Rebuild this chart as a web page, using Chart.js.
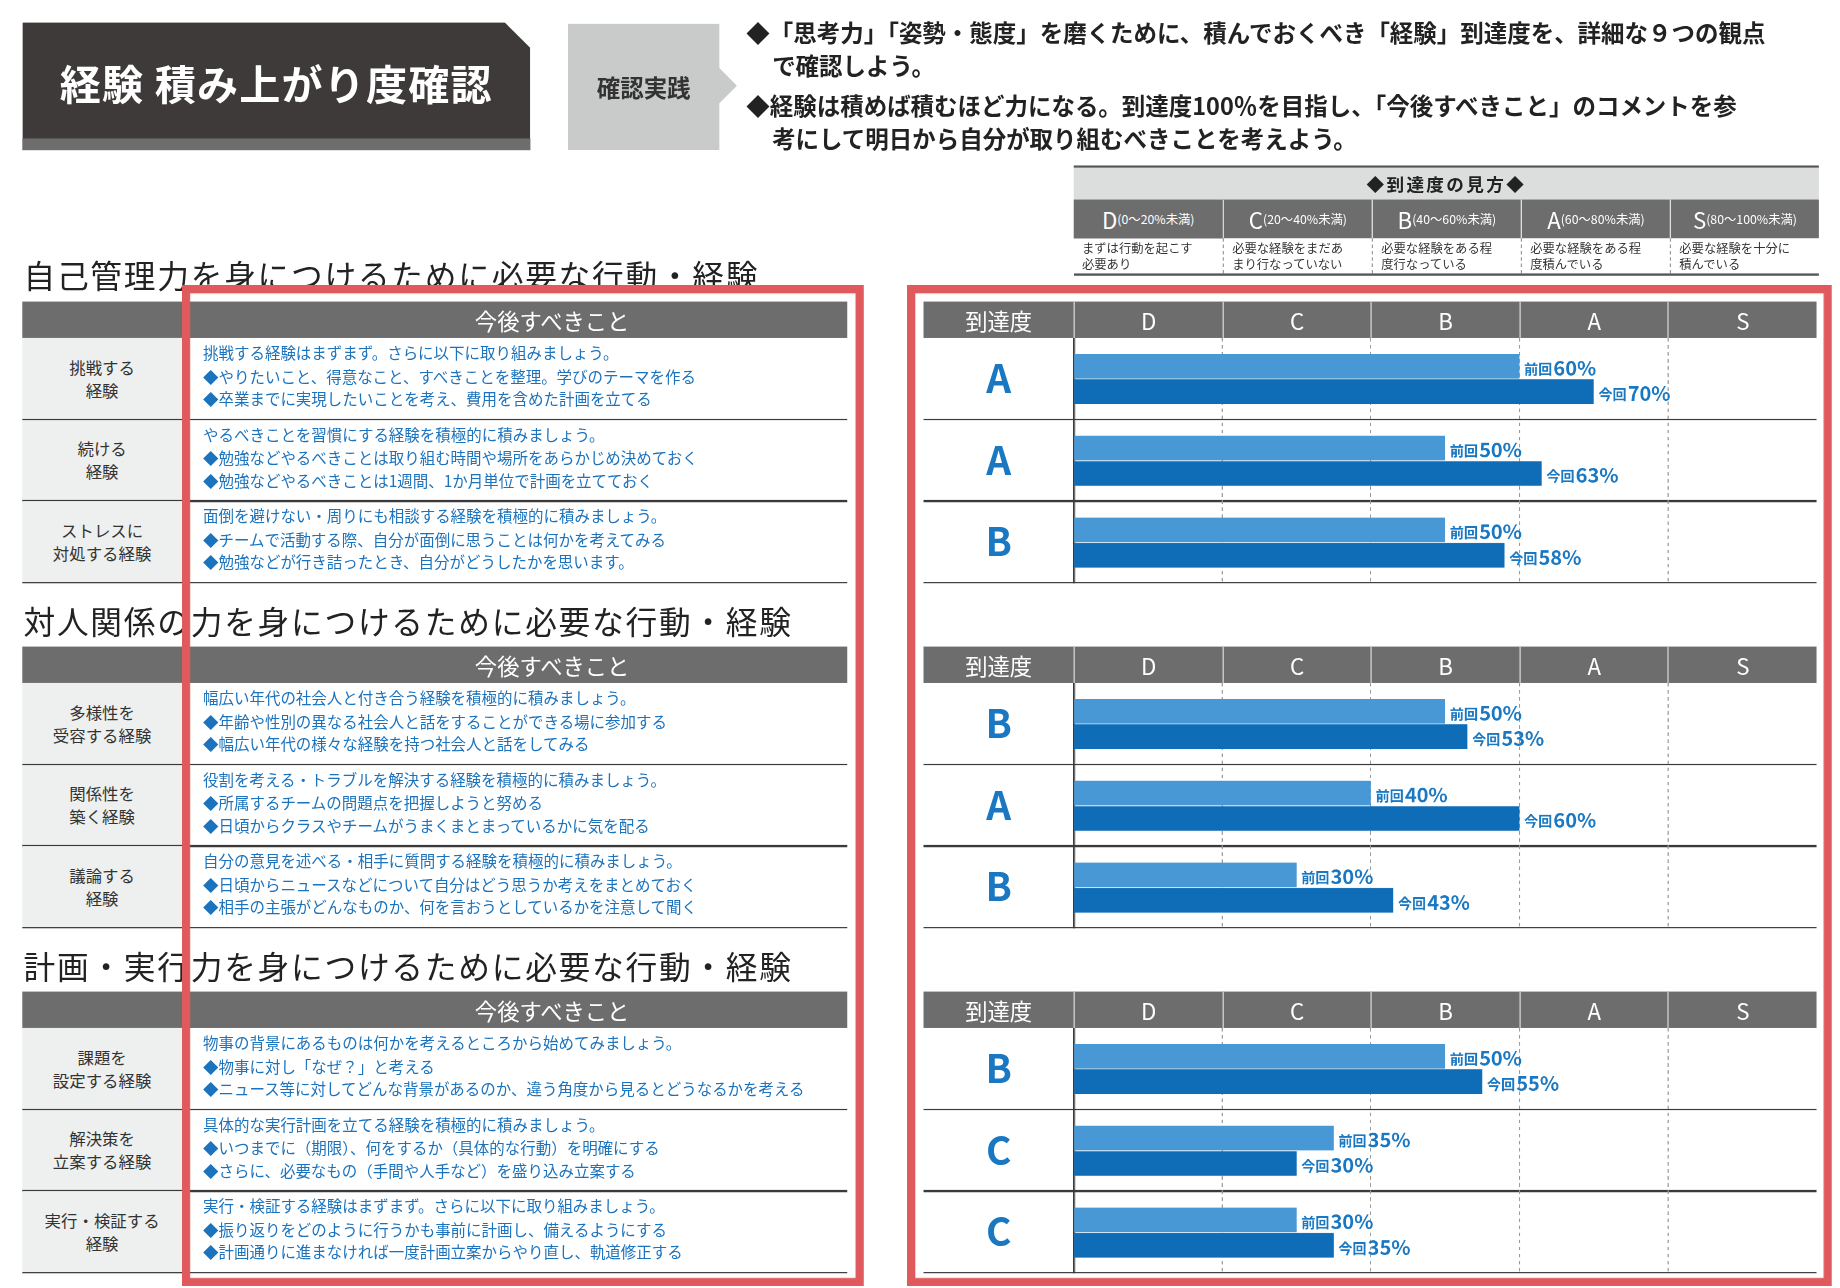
<!DOCTYPE html>
<html><head><meta charset="utf-8">
<script src="https://cdn.jsdelivr.net/npm/chart.js@4"></script>
<style>
body{margin:0;background:#fff;font-family:"Noto Sans CJK JP","Noto Sans",sans-serif;}
#root{position:absolute;left:0;top:0;width:1568px;height:1098px;transform:scale(1.17347);transform-origin:0 0;}
.a{position:absolute;box-sizing:border-box;}
.hdr{background:#6d6d6d;color:#fff;font-size:19px;display:flex;align-items:center;justify-content:center;}
.lab{background:#eeefef;color:#333;font-size:14px;text-align:center;display:flex;align-items:center;justify-content:center;line-height:19px;}
.txt{color:#1c73bd;font-size:13.2px;line-height:19.5px;padding:3px 0 0 6px;white-space:nowrap;}
.line{background:#3a3a3a;height:1.5px;}
.grade{color:#1a78c2;font-size:33px;font-weight:bold;text-align:center;width:128px;}
.stitle{font-size:27px;color:#222;white-space:nowrap;letter-spacing:1.5px;}
.red{border:7px solid #e05a5d;}
canvas{display:block}
</style></head><body>
<div id="root"></div>
<script>
const sectionTitles=["自己管理力を身につけるために必要な行動・経験","対人関係の力を身につけるために必要な行動・経験","計画・実行力を身につけるために必要な行動・経験"];
const rowLabels=[["挑戦する<br>経験","続ける<br>経験","ストレスに<br>対処する経験"],["多様性を<br>受容する経験","関係性を<br>築く経験","議論する<br>経験"],["課題を<br>設定する経験","解決策を<br>立案する経験","実行・検証する<br>経験"]];
const rowTexts=[
[["挑戦する経験はまずまず。さらに以下に取り組みましょう。","◆やりたいこと、得意なこと、すべきことを整理。学びのテーマを作る","◆卒業までに実現したいことを考え、費用を含めた計画を立てる"],
 ["やるべきことを習慣にする経験を積極的に積みましょう。","◆勉強などやるべきことは取り組む時間や場所をあらかじめ決めておく","◆勉強などやるべきことは1週間、1か月単位で計画を立てておく"],
 ["面倒を避けない・周りにも相談する経験を積極的に積みましょう。","◆チームで活動する際、自分が面倒に思うことは何かを考えてみる","◆勉強などが行き詰ったとき、自分がどうしたかを思います。"]],
[["幅広い年代の社会人と付き合う経験を積極的に積みましょう。","◆年齢や性別の異なる社会人と話をすることができる場に参加する","◆幅広い年代の様々な経験を持つ社会人と話をしてみる"],
 ["役割を考える・トラブルを解決する経験を積極的に積みましょう。","◆所属するチームの問題点を把握しようと努める","◆日頃からクラスやチームがうまくまとまっているかに気を配る"],
 ["自分の意見を述べる・相手に質問する経験を積極的に積みましょう。","◆日頃からニュースなどについて自分はどう思うか考えをまとめておく","◆相手の主張がどんなものか、何を言おうとしているかを注意して聞く"]],
[["物事の背景にあるものは何かを考えるところから始めてみましょう。","◆物事に対し「なぜ？」と考える","◆ニュース等に対してどんな背景があるのか、違う角度から見るとどうなるかを考える"],
 ["具体的な実行計画を立てる経験を積極的に積みましょう。","◆いつまでに（期限）、何をするか（具体的な行動）を明確にする","◆さらに、必要なもの（手間や人手など）を盛り込み立案する"],
 ["実行・検証する経験はまずまず。さらに以下に取り組みましょう。","◆振り返りをどのように行うかも事前に計画し、備えるようにする","◆計画通りに進まなければ一度計画立案からやり直し、軌道修正する"]]];
const grades=[["A","A","B"],["B","A","B"],["B","C","C"]];
const prevValues=[[60,50,50],[50,40,30],[50,35,30]];
const currValues=[[70,63,58],[53,60,43],[55,30,35]];
const levelLetters=["D","C","B","A","S"];
const levelRanges=["(0～20%未満)","(20～40%未満)","(40～60%未満)","(60～80%未満)","(80～100%未満)"];
const levelDescs=["まずは行動を起こす<br>必要あり","必要な経験をまだあ<br>まり行なっていない","必要な経験をある程<br>度行なっている","必要な経験をある程<br>度積んでいる","必要な経験を十分に<br>積んでいる"];

const root=document.getElementById('root');
function el(cls,css,html){const d=document.createElement('div');d.className='a '+(cls||'');d.style.cssText=css;if(html!==undefined)d.innerHTML=html;root.appendChild(d);return d;}

el('','left:19px;top:19px;width:433px;height:100px;background:#3e3a39;clip-path:polygon(0 0,411px 0,433px 22px,433px 100%,0 100%);');
el('','left:19px;top:118px;width:433px;height:10px;background:#6d6d6d;');
el('','left:19px;top:19px;width:433px;height:100px;color:#fff;font-size:35px;font-weight:bold;display:flex;align-items:center;justify-content:center;letter-spacing:1px;','経験 積み上がり度確認');
el('','left:484px;top:20px;width:144px;height:108px;background:#c9caca;clip-path:polygon(0 0,129px 0,129px 38px,144px 53px,129px 68px,129px 100%,0 100%);');
el('','left:484px;top:20px;width:129px;height:108px;color:#333;font-size:20px;font-weight:bold;display:flex;align-items:center;justify-content:center;','確認実践');
el('','left:636px;top:14px;width:920px;font-size:20px;font-weight:bold;color:#222;line-height:28px;',
 '<div>◆「思考力」「姿勢・態度」を磨くために、積んでおくべき「経験」到達度を、詳細な９つの観点</div><div style="padding-left:22px">で確認しよう。</div><div style="margin-top:6px">◆経験は積めば積むほど力になる。到達度100％を目指し、「今後すべきこと」のコメントを参</div><div style="padding-left:22px">考にして明日から自分が取り組むべきことを考えよう。</div>');
el('','left:915px;top:141px;width:635px;height:2px;background:#555;');
el('','left:915px;top:143px;width:635px;height:27px;background:#dcdddd;font-size:15px;font-weight:bold;color:#222;display:flex;align-items:center;justify-content:center;letter-spacing:2px;','◆到達度の見方◆');
for(let i=0;i<5;i++){
  const x=915+i*127;
  el('',`left:${x}px;top:170px;width:127px;height:33px;background:#6d6d6d;color:#fff;display:flex;align-items:center;justify-content:center;border-left:${i?1:0}px solid #ddd;white-space:nowrap;`,`<span style="font-size:19px">${levelLetters[i]}</span><span style="font-size:10.5px">${levelRanges[i]}</span>`);
  el('',`left:${x}px;top:203px;width:127px;height:30px;font-size:10.5px;line-height:13px;color:#333;padding:2px 0 0 7px;border-left:${i?1:0}px dashed #999;white-space:nowrap;`,levelDescs[i]);
}
el('','left:915px;top:233px;width:635px;height:2px;background:#555;');

const sectTop=[257,551,845];
const titleTop=[214,509,803];
const rowH=69.6;
for(let s=0;s<3;s++){
  const t=sectTop[s];
  el('stitle',`left:20px;top:${titleTop[s]}px;`,sectionTitles[s]);
  el('hdr',`left:19px;top:${t}px;width:703px;height:31px;`,'<span style="margin-left:200px">今後すべきこと</span>');
  el('hdr',`left:787px;top:${t}px;width:128px;height:31px;`,'到達度');
  for(let i=0;i<5;i++) el('hdr',`left:${915+i*126.6}px;top:${t}px;width:126.6px;height:31px;border-left:1px solid #ccc;`,levelLetters[i]);
  for(let r=0;r<3;r++){
    const y=t+31+r*rowH;
    el('lab',`left:19px;top:${y}px;width:136px;height:${rowH}px;`,rowLabels[s][r]);
    el('txt',`left:167px;top:${y}px;width:555px;height:${rowH}px;`,rowTexts[s][r].join('<br>'));
    el('grade',`left:787px;top:${y+9}px;`,grades[s][r]);
    el('line',`left:19px;top:${y+rowH-1}px;width:703px;`);
    el('line',`left:787px;top:${y+rowH-1}px;width:761px;`);
  }
  el('',`left:914px;top:${t+31}px;width:1.5px;height:${rowH*3}px;background:#3a3a3a;`);
  const wrap=el('',`left:915px;top:${t+31}px;width:633px;height:${rowH*3}px;`);
  const c=document.createElement('canvas');wrap.appendChild(c);
  makeChart(c,s);
}
el('red','left:155px;top:243px;width:581px;height:853px;');
el('red','left:773px;top:243px;width:788px;height:853px;');

function makeChart(canvas,s){
  const labelPlugin={id:'lbl',afterDatasetsDraw(ch){
    const ctx=ch.ctx;ctx.save();ctx.fillStyle='#1a78c2';ctx.textBaseline='alphabetic';
    ch.data.datasets.forEach((ds,di)=>{
      ch.getDatasetMeta(di).data.forEach((bar,i)=>{
        const x=bar.x+4,y=bar.y+7;
        ctx.font='bold 12px "Noto Sans CJK JP"';
        ctx.fillText(ds.label,x,y);
        const w=ctx.measureText(ds.label).width;
        ctx.font='bold 17px "Noto Sans CJK JP"';
        ctx.fillText(ds.data[i]+'%',x+w+1,y+1);
      });
    });
    ctx.restore();}};
  new Chart(canvas,{type:'bar',
    data:{labels:['r1','r2','r3'],datasets:[
      {label:'前回',data:prevValues[s],backgroundColor:'#4898d6'},
      {label:'今回',data:currValues[s],backgroundColor:'#0f6cb6'}]},
    options:{indexAxis:'y',responsive:true,maintainAspectRatio:false,animation:false,devicePixelRatio:2,
      categoryPercentage:0.62,barPercentage:0.97,
      layout:{padding:0},
      plugins:{legend:{display:false},tooltip:{enabled:false}},
      scales:{
        x:{min:0,max:100,ticks:{display:false,stepSize:20},border:{display:false,dash:[3,3]},
           grid:{drawTicks:false,color:c=>(c.tick&&c.tick.value>0&&c.tick.value<100)?'#9a9a9a':'rgba(0,0,0,0)',lineWidth:1}},
        y:{display:false}}},
    plugins:[labelPlugin]});
}
</script>
</body></html>
